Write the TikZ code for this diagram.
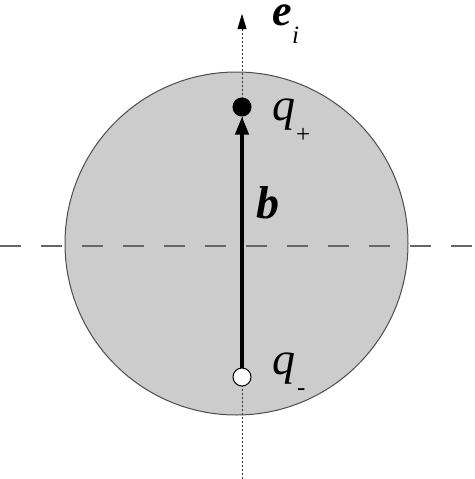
\documentclass[tikz,border=0pt]{standalone}
\usepackage{fontspec}
\setmainfont{Liberation Serif}
\usetikzlibrary{arrows.meta}
\tikzset{
  lbl/.style={anchor=base west,inner sep=0pt,font=\fontsize{46}{50}\selectfont},
  sublbl/.style={anchor=base west,inner sep=0pt,font=\fontsize{25}{28}\selectfont},
  dotnode/.style={circle,draw=black,line width=1pt,minimum size=18pt,inner sep=0pt},
  axisline/.style={line width=1pt,dash pattern=on 2pt off 2pt,black!80},
  refline/.style={line width=1.3pt,dash pattern=on 21pt off 20pt,black!60}
}
\begin{document}
\begin{tikzpicture}[x=1pt,y=-1pt]
\useasboundingbox (0,0) rectangle (474,479);
\node[circle,draw=black!70,line width=1pt,fill=black!20,minimum size=343pt,inner sep=0pt] (disk) at (236.5,243.5) {};
\draw[refline] (0,246) -- (474,246);
\coordinate (top) at (242,14);
\coordinate (bot) at (242,479);
\coordinate (tipbase) at (242,30);
\draw[axisline] (bot) -- (tipbase);
\draw[line width=0.5pt,-{Triangle[length=15pt,width=9pt]}] (tipbase) -- (top);
\node[dotnode,fill=black] (qp) at (242,107) {};
\node[dotnode,fill=white] (qm) at (242,377) {};
\draw[line width=4pt,-{Triangle[length=18pt,width=13pt]}] (qm.north) -- (qp.south);
\node[lbl,font=\fontsize{44}{48}\selectfont] (e) at (272,25) {\bfseries\itshape e};
\node[sublbl] (ei) at (292,43) {\itshape i};
\node[lbl] (qplus) at (272,120) {\itshape q};
\node[sublbl] (plus) at (296,142) {+};
\node[lbl] (b) at (256,218) {\bfseries\itshape b};
\node[lbl] (qminus) at (272,374) {\itshape q};
\node[sublbl] (minus) at (297,395) {-};
\end{tikzpicture}
\end{document}
